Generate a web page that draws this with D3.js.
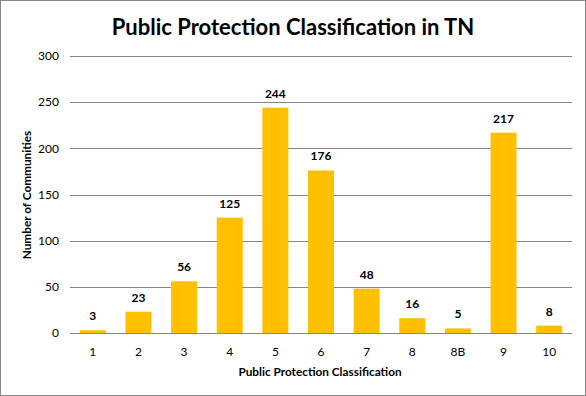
<!DOCTYPE html>
<html>
<head>
<meta charset="utf-8">
<script src="https://cdn.jsdelivr.net/npm/d3@7"></script>
<style>
  body { margin: 0; background: #fff; }
  text { font-family: Lato, "Open Sans", sans-serif; }
</style>
</head>
<body>
<svg></svg>
<script>
var width = 586;
var height = 396;

var categories = ["1", "2", "3", "4", "5", "6", "7", "8", "8B", "9", "10"];
var counts = [3, 23, 56, 125, 244, 176, 48, 16, 5, 217, 8];
var yTicks = [0, 50, 100, 150, 200, 250, 300];

var data = categories.map(function(c, i) { return { cat: c, value: counts[i] }; });

var svg = d3.select("svg")
            .attr("width", width)
            .attr("height", height);

// outer chart border
svg.append("rect")
  .attr("x", 0.5).attr("y", 0.5)
  .attr("width", width - 1).attr("height", height - 1)
  .attr("fill", "#fff")
  .attr("stroke", "#868686");

// plot area (named so they don't clash with window.top)
var plotLeft = 70, plotRight = 572, plotTop = 56, plotBottom = 333;

var xScale = d3.scaleBand()
               .domain(categories)
               .range([plotLeft, plotRight])
               .paddingInner(0.43)
               .paddingOuter(0.215);

var yScale = d3.scaleLinear()
               .domain([0, 300])
               .range([plotBottom, plotTop]);

// gridlines
svg.selectAll("line.grid")
  .data(yTicks)
  .enter()
  .append("line")
  .attr("class", "grid")
  .attr("x1", plotLeft).attr("x2", plotRight)
  .attr("y1", function(d) { return Math.round(yScale(d)) + 0.5; })
  .attr("y2", function(d) { return Math.round(yScale(d)) + 0.5; })
  .attr("stroke", "#868686")
  .attr("stroke-width", 1);

// y tick labels
svg.selectAll("text.ytick")
  .data(yTicks)
  .enter()
  .append("text")
  .attr("class", "ytick")
  .attr("x", plotLeft - 11)
  .attr("y", function(d) { return yScale(d); })
  .attr("dy", "0.35em")
  .attr("text-anchor", "end")
  .attr("font-size", 12)
  .attr("fill", "#000")
  .text(function(d) { return d; });

// bars
svg.selectAll("rect.bar")
  .data(data)
  .enter()
  .append("rect")
  .attr("class", "bar")
  .attr("x", function(d) { return xScale(d.cat); })
  .attr("y", function(d) { return yScale(d.value); })
  .attr("width", xScale.bandwidth())
  .attr("height", function(d) { return yScale(0) - yScale(d.value); })
  .attr("fill", "#FFC000");

// value labels
svg.selectAll("text.val")
  .data(data)
  .enter()
  .append("text")
  .attr("class", "val")
  .attr("x", function(d) { return xScale(d.cat) + xScale.bandwidth() / 2; })
  .attr("y", function(d) { return yScale(d.value) - 10; })
  .attr("text-anchor", "middle")
  .attr("font-size", 12)
  .attr("font-weight", "bold")
  .attr("fill", "#000")
  .text(function(d) { return d.value; });

// x tick labels
svg.selectAll("text.xtick")
  .data(categories)
  .enter()
  .append("text")
  .attr("class", "xtick")
  .attr("x", function(d) { return xScale(d) + xScale.bandwidth() / 2; })
  .attr("y", 356)
  .attr("text-anchor", "middle")
  .attr("font-size", 12)
  .attr("fill", "#000")
  .text(function(d) { return d; });

// title
svg.append("text")
  .attr("x", 293).attr("y", 35)
  .attr("text-anchor", "middle")
  .attr("font-size", 22)
  .attr("font-weight", "bold")
  .text("Public Protection Classification in TN");

// axis titles
svg.append("text")
  .attr("x", 320).attr("y", 376)
  .attr("text-anchor", "middle")
  .attr("font-size", 11.8)
  .attr("font-weight", "bold")
  .text("Public Protection Classification");

svg.append("text")
  .attr("transform", "translate(31,195) rotate(-90)")
  .attr("text-anchor", "middle")
  .attr("font-size", 11.8)
  .attr("font-weight", "bold")
  .text("Number of Communities");
</script>
</body>
</html>
